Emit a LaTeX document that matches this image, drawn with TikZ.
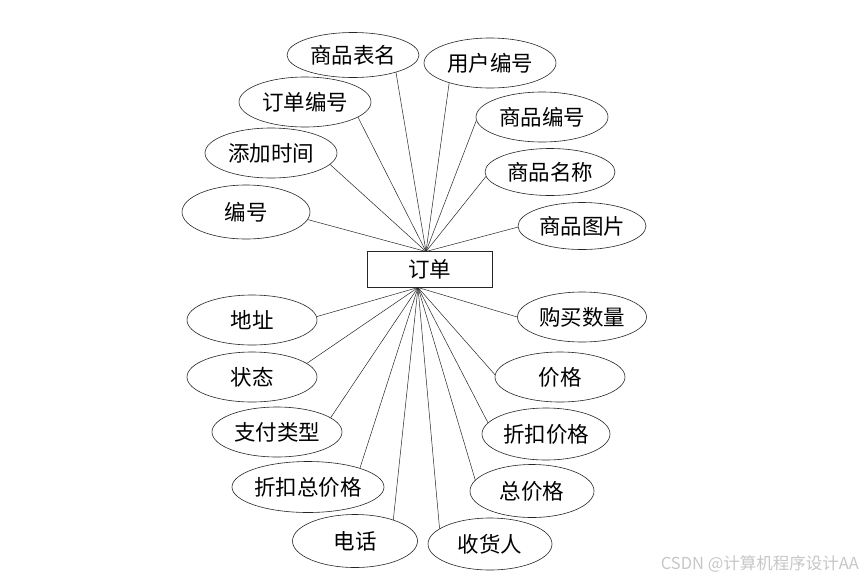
\documentclass[tikz,border=0pt]{standalone}
\usepackage{fontspec}
\newfontfamily\cjk{Noto Sans CJK SC}
\usetikzlibrary{shapes.geometric}
\begin{document}
\begin{tikzpicture}[x=1pt,y=-1pt,
  attr/.style={ellipse,draw=black!85,line width=0.6pt,inner sep=0pt,minimum width=130pt,minimum height=50pt,font=\cjk\fontsize{21.5}{24}\selectfont},
  ent/.style={rectangle,draw=black!85,line width=0.6pt,inner sep=0pt,minimum width=125pt,minimum height=36pt,font=\cjk\fontsize{21.5}{24}\selectfont},
  link/.style={draw=black!85,line width=0.5pt}]
\useasboundingbox (0,0) rectangle (864,582);
\fill[white] (0,0) rectangle (864,582);
\node[ent] (dd) at (429.5,269.5) {订单};
\coordinate (ct) at (426,251.5);
\coordinate (cb) at (418,287.5);
% top attributes
\node[attr,minimum width=132pt,minimum height=45pt] (a1) at (353,55) {商品表名};
\node[attr,minimum width=132pt] (a2) at (490,63) {用户编号};
\node[attr,minimum width=132pt] (a3) at (305,102) {订单编号};
\node[attr,minimum width=132pt] (a4) at (542,117) {商品编号};
\node[attr,minimum width=132pt] (a5) at (271,153) {添加时间};
\node[attr,minimum height=47pt] (a6) at (550,172) {商品名称};
\node[attr,minimum width=128pt,minimum height=54pt] (a7) at (246,212) {编号};
\node[attr,minimum width=128pt,minimum height=47pt] (a8) at (582,226) {商品图片};
% bottom attributes
\node[attr] (b1) at (252,320) {地址};
\node[attr,minimum width=129pt] (b2) at (582,317) {购买数量};
\node[attr] (b3) at (252,377) {状态};
\node[attr] (b4) at (560,377) {价格};
\node[attr] (b5) at (277,432) {支付类型};
\node[attr,minimum width=128pt,minimum height=52pt] (b6) at (546,434) {折扣价格};
\node[attr,minimum height=51pt] (b7) at (308,487) {折扣总价格};
\node[attr,minimum width=124pt,minimum height=53pt] (b8) at (532,491) {总价格};
\node[attr,minimum width=125pt,minimum height=53pt] (b9) at (355,541) {电话};
\node[attr,minimum width=124pt,minimum height=52pt] (b10) at (490,544) {收货人};
% connectors
\draw[link] (ct) -- (a1.-22);
\draw[link] (ct) -- (a2.-154);
\draw[link] (ct) -- (a3.-16);
\draw[link] (ct) -- (a4.-177);
\draw[link] (ct) -- (a5.-11);
\draw[link] (ct) -- (a6.-176);
\draw[link] (ct) -- (a7.-7);
\draw[link] (ct) -- (a8.181);
\draw[link] (cb) -- (b1.3);
\draw[link] (cb) -- (b2.180);
\draw[link] (cb) -- (b3.14);
\draw[link] (cb) -- (b4.178);
\draw[link] (cb) -- (b5.15);
\draw[link] (cb) -- (b6.169);
\draw[link] (cb) -- (b7.20);
\draw[link] (cb) -- (b8.169);
\draw[link] (cb) -- (b9.29);
\draw[link] (cb) -- (b10.163);
\node[anchor=east,text=black!22,font=\cjk\fontsize{16.5}{18}\selectfont,inner sep=0pt] (wm) at (859,564) {CSDN @计算机程序设计AA};
\end{tikzpicture}
\end{document}
